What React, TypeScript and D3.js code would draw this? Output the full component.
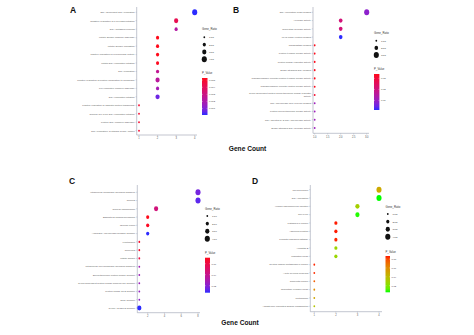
import React from "react";
import * as d3 from "d3";

// ---------- Panel A (GO biological process) ----------
const termsA = [
  "DNA-dependent DNA replication",
  "Negative regulation of T cell differentiation",
  "DNA metabolic process",
  "Mitotic spindle midzone assembly",
  "Mitotic spindle elongation",
  "Positive regulation of exonuclease activity",
  "Mitotic DNA replication initiation",
  "DNA replication",
  "Positive regulation of protein localization to membrane",
  "Pre-replicative complex assembly",
  "DNA replication initiation",
  "Positive regulation of ubiquitin protein transferase",
  "Nuclear cell cycle DNA replication initiation",
  "Protein-DNA complex assembly",
  "DNA replication, synthesis of RNA primer",
];
const countsA = [4, 3, 3, 2, 2, 2, 2, 2, 2, 2, 2, 1, 1, 1, 1];
const pA = [0.0001, 0.0042, 0.0022, 0.0053, 0.0053, 0.0053, 0.0052, 0.0026, 0.0024, 0.0018, 0.0007, 0.0049, 0.0049, 0.0049, 0.0049];
const ratioA = [4, 3, 2, 2, 2, 2, 2, 2, 3, 2, 3, 1, 1, 1, 1];
const ratioLegendA = ["1/15", "2/15", "3/15", "4/15"];
const pTicksA = [0.005, 0.004, 0.003, 0.002, 0.001];
const pTickLabelsA = ["0.005", "0.004", "0.003", "0.002", "0.001"];
const xTicksA = [1, 2, 3, 4];

// ---------- Panel B (GO molecular function) ----------
const termsB = [
  "DNA replication origin binding",
  "Helicase activity",
  "Nucleotide helicase activity",
  "MHC class I protein binding",
  "Phosphatase binding",
  "Protein tyrosine kinase activity",
  "Protein kinase regulator activity",
  "Single-stranded DNA binding",
  "Transmembrane receptor protein tyrosine kinase activity",
  "Transmembrane receptor protein kinase activity",
  "Cyclin-dependent protein serine/threonine kinase regulator\nactivity",
  "RNA polymerase core enzyme binding",
  "Protein serine/threonine kinase activity",
  "RNA-directed 5'-3' RNA polymerase activity",
  "Single-stranded DNA helicase activity",
];
const countsB = [3, 2, 2, 2, 1, 1, 1, 1, 1, 1, 1, 1, 1, 1, 1];
const pB = [0.0085, 0.021, 0.021, 0.0013, 0.034, 0.034, 0.034, 0.034, 0.034, 0.034, 0.032, 0.011, 0.011, 0.011, 0.011];
const ratioB = [3, 2, 2, 2, 1, 1, 1, 1, 1, 1, 1, 1, 1, 1, 1];
const ratioLegendB = ["1/15", "2/15", "3/15"];
const pTicksB = [0.03, 0.02, 0.01];
const pTickLabelsB = ["0.03", "0.02", "0.01"];
const xTicksB = [1.0, 1.5, 2.0, 2.5, 3.0];
const xTickLabelsB = ["1.0", "1.5", "2.0", "2.5", "3.0"];

// ---------- Panel C (GO cellular component) ----------
const termsC = [
  "Intracellular membrane-bounded organelle",
  "Nucleus",
  "Nuclear chromosome",
  "Basolateral plasma membrane",
  "Nuclear lumen",
  "Alpha DNA polymerase:primase complex",
  "Kinetochore",
  "Nucleolus",
  "Mitotic spindle",
  "Intracellular non-membrane-bounded organelle",
  "Serine/threonine protein kinase complex",
  "Cyclin-dependent protein kinase holoenzyme complex",
  "Protein kinase CK2 complex",
  "CMG complex",
  "Cyclin A2-CDK2 complex",
];
const countsC = [8, 8, 3, 2, 2, 2, 1, 1, 1, 1, 1, 1, 1, 1, 1];
const pC = [0.016, 0.012, 0.045, 0.071, 0.069, 0.0075, 0.068, 0.068, 0.062, 0.027, 0.026, 0.025, 0.024, 0.022, 0.0073];
const ratioC = [4, 4, 3, 2, 2, 2, 1, 1, 1, 1, 1, 1, 1, 1, 3];
const ratioLegendC = ["1/16", "2/16", "3/16", "4/16"];
const pTicksC = [0.06, 0.04, 0.02];
const pTickLabelsC = ["0.06", "0.04", "0.02"];
const xTicksC = [2, 4, 6, 8];

// ---------- Panel D (KEGG pathways) ----------
const termsD = [
  "Thyroid cancer",
  "DNA replication",
  "Human papillomavirus infection",
  "Cell cycle",
  "Pathways in cancer",
  "Adherens junction",
  "Prolactin signaling pathway",
  "Hepatitis B",
  "Mismatch repair",
  "Central carbon metabolism in cancer",
  "Acute myeloid leukemia",
  "Colorectal cancer",
  "Nucleotide excision repair",
  "Proteasome",
  "Aldosterone-regulated sodium reabsorption",
];
const countsD = [4, 4, 3, 3, 2, 2, 2, 2, 2, 1, 1, 1, 1, 1, 1];
const pD = [0.048, 0.005, 0.03, 0.006, 0.087, 0.087, 0.086, 0.027, 0.026, 0.086, 0.085, 0.075, 0.06, 0.05, 0.036];
const ratioD = [4, 4, 3, 3, 2, 2, 2, 2, 2, 1, 1, 1, 1, 1, 1];
const ratioLegendD = ["1/12", "2/12", "3/12", "4/12"];
const pTicksD = [0.08, 0.06, 0.04, 0.02];
const pTickLabelsD = ["0.08", "0.06", "0.04", "0.02"];
const xTicksD = [1, 2, 3, 4];

const FONT = "Liberation Sans, Arial, sans-serif";

type PanelProps = {
  letter: string;
  terms: string[];
  counts: number[];
  pvals: number[];
  ratios: number[];
  ratioLegend: string[];
  pTicks: number[];
  pTickLabels: string[];
  xTicks: number[];
  xTickLabels?: string[];
  interp: (t: number) => string;
  layout: {
    letterX: number; letterY: number;
    axisX: number; axisTop: number; axisY: number; axisRight: number;
    tickX0: number; tickX1: number; tickV0: number; tickV1: number;
    row0: number; row1: number;
    legX: number; legTitleY: number; legY0: number; legStep: number;
    pTitleY: number; barTop: number; barBottom: number; barW: number;
  };
};

function Panel(props: PanelProps) {
  const { letter, terms, counts, pvals, ratios, ratioLegend, pTicks, pTickLabels, xTicks, xTickLabels, interp, layout: L } = props;
  const id = "grad" + letter;
  const x = d3.scaleLinear().domain([L.tickV0, L.tickV1]).range([L.tickX0, L.tickX1]);
  const y = d3.scalePoint<string>().domain(terms).range([L.row0, L.row1]);
  const pExt = d3.extent(pvals) as [number, number];
  const color = d3.scaleSequential(interp).domain(pExt);
  const maxR = d3.max(ratios) as number;
  const size = d3.scaleSqrt().domain([1, Math.max(maxR, ratioLegend.length)]).range([1.05, 3.0]);
  const barY = d3.scaleLinear().domain(pExt).range([L.barBottom, L.barTop]);
  const stops = d3.range(0, 1.0001, 0.1);

  return (
    <g>
      <defs>
        <linearGradient id={id} x1="0" y1="1" x2="0" y2="0">
          {stops.map((s) => (
            <stop key={s} offset={s} stopColor={color(pExt[0] + s * (pExt[1] - pExt[0]))} />
          ))}
        </linearGradient>
      </defs>
      <text x={L.letterX} y={L.letterY} fontFamily={FONT} fontWeight="bold" fontSize={8.5} fill="#111">{letter}</text>
      {/* axes */}
      <line x1={L.axisX} x2={L.axisX} y1={L.axisTop} y2={L.axisY} stroke="#9aa0b0" strokeWidth={0.6} />
      <line x1={L.axisX} x2={L.axisRight} y1={L.axisY} y2={L.axisY} stroke="#9aa0b0" strokeWidth={0.6} />
      {xTicks.map((t, i) => (
        <g key={"xt" + i}>
          <line x1={x(t)} x2={x(t)} y1={L.axisY} y2={L.axisY + 1.3} stroke="#9aa0b0" strokeWidth={0.4} />
          <text x={x(t)} y={L.axisY + 4.2} textAnchor="middle" fontFamily={FONT} fontSize={2.6} fill="#555">
            {xTickLabels ? xTickLabels[i] : String(t)}
          </text>
        </g>
      ))}
      {terms.map((t, i) => {
        const yy = y(t) as number;
        const lines = t.split("\n");
        return (
          <g key={"yl" + i}>
            <line x1={L.axisX - 1.2} x2={L.axisX} y1={yy} y2={yy} stroke="#9aa0b0" strokeWidth={0.4} />
            <text x={L.axisX - 2} y={yy + 0.8 - (lines.length - 1) * 1.4} textAnchor="end" fontFamily={FONT} fontSize={2.4} fill="#555">
              {lines.map((ln, j) => (
                <tspan key={j} x={L.axisX - 2} dy={j === 0 ? 0 : 2.8}>{ln}</tspan>
              ))}
            </text>
          </g>
        );
      })}
      {/* points */}
      {terms.map((t, i) => {
        const r = size(ratios[i]);
        return (
          <ellipse key={"pt" + i} cx={x(counts[i])} cy={y(t) as number} rx={r * 0.85} ry={r} fill={color(pvals[i])} />
        );
      })}
      {/* size legend */}
      <text x={L.legX} y={L.legTitleY} fontFamily={FONT} fontSize={2.8} fill="#333">Gene_Ratio</text>
      {ratioLegend.map((lab, i) => {
        const r = size(i + 1);
        const yy = L.legY0 + i * L.legStep;
        return (
          <g key={"lg" + i}>
            <ellipse cx={L.legX + 2.3} cy={yy} rx={r * 0.85} ry={r} fill="#111" />
            <text x={L.legX + 7} y={yy + 0.9} fontFamily={FONT} fontSize={2.5} fill="#444">{lab}</text>
          </g>
        );
      })}
      {/* colour legend */}
      <text x={L.legX} y={L.pTitleY} fontFamily={FONT} fontSize={2.8} fill="#333">P_Value</text>
      <rect x={L.legX} y={L.barTop} width={L.barW} height={L.barBottom - L.barTop} fill={`url(#${id})`} />
      {pTicks.map((p, i) => (
        <g key={"pt" + i}>
          <line x1={L.legX} x2={L.legX + 1} y1={barY(p)} y2={barY(p)} stroke="#fff" strokeWidth={0.3} />
          <line x1={L.legX + L.barW - 1} x2={L.legX + L.barW} y1={barY(p)} y2={barY(p)} stroke="#fff" strokeWidth={0.3} />
          <text x={L.legX + L.barW + 1.5} y={barY(p) + 0.9} fontFamily={FONT} fontSize={2.4} fill="#444">{pTickLabels[i]}</text>
        </g>
      ))}
    </g>
  );
}

export default function App() {
  const blueRed = d3.interpolateLab("#2b2bff", "#ff0a1a");
  const greenRed = d3.interpolateLab("#00ff00", "#ff1a00");
  return (
    <svg width={474} height={335} style={{ position: "absolute", left: 0, top: 0, background: "#fff" }}>
      <rect width={474} height={335} fill="#fff" />
      <Panel
        letter="A" terms={termsA} counts={countsA} pvals={pA} ratios={ratioA} ratioLegend={ratioLegendA}
        pTicks={pTicksA} pTickLabels={pTickLabelsA} xTicks={xTicksA} interp={blueRed}
        layout={{
          letterX: 70, letterY: 13.3, axisX: 136.7, axisTop: 7, axisY: 135, axisRight: 197,
          tickX0: 139, tickX1: 194.7, tickV0: 1, tickV1: 4, row0: 12.3, row1: 130.7,
          legX: 202, legTitleY: 30, legY0: 37.3, legStep: 7.3,
          pTitleY: 74, barTop: 78, barBottom: 115, barW: 5.5,
        }}
      />
      <Panel
        letter="B" terms={termsB} counts={countsB} pvals={pB} ratios={ratioB} ratioLegend={ratioLegendB}
        pTicks={pTicksB} pTickLabels={pTickLabelsB} xTicks={xTicksB} xTickLabels={xTickLabelsB} interp={blueRed}
        layout={{
          letterX: 233, letterY: 13.3, axisX: 313, axisTop: 7, axisY: 133.3, axisRight: 369,
          tickX0: 314.7, tickX1: 366.7, tickV0: 1, tickV1: 3, row0: 12.3, row1: 128,
          legX: 374, legTitleY: 34, legY0: 40.7, legStep: 7.2,
          pTitleY: 70, barTop: 74, barBottom: 110, barW: 5.4,
        }}
      />
      <Panel
        letter="C" terms={termsC} counts={countsC} pvals={pC} ratios={ratioC} ratioLegend={ratioLegendC}
        pTicks={pTicksC} pTickLabels={pTickLabelsC} xTicks={xTicksC} interp={blueRed}
        layout={{
          letterX: 69, letterY: 183.5, axisX: 137.3, axisTop: 185, axisY: 312.7, axisRight: 200,
          tickX0: 147.7, tickX1: 198, tickV0: 2, tickV1: 8, row0: 192.3, row1: 308,
          legX: 205, legTitleY: 210, legY0: 216, legStep: 7.6,
          pTitleY: 253.5, barTop: 257.7, barBottom: 292.7, barW: 5,
        }}
      />
      <Panel
        letter="D" terms={termsD} counts={countsD} pvals={pD} ratios={ratioD} ratioLegend={ratioLegendD}
        pTicks={pTicksD} pTickLabels={pTickLabelsD} xTicks={xTicksD} interp={greenRed}
        layout={{
          letterX: 252, letterY: 183.5, axisX: 310.3, axisTop: 185, axisY: 311.7, axisRight: 382,
          tickX0: 314.3, tickX1: 379, tickV0: 1, tickV1: 4, row0: 189.7, row1: 306.3,
          legX: 385.5, legTitleY: 207.5, legY0: 214, legStep: 7.6,
          pTitleY: 252.5, barTop: 256, barBottom: 292.3, barW: 4.5,
        }}
      />
      <text x={247.5} y={151} textAnchor="middle" fontFamily={FONT} fontWeight="bold" fontSize={6.6} fill="#111">Gene Count</text>
      <text x={240} y={324.5} textAnchor="middle" fontFamily={FONT} fontWeight="bold" fontSize={6.6} fill="#111">Gene Count</text>
    </svg>
  );
}
